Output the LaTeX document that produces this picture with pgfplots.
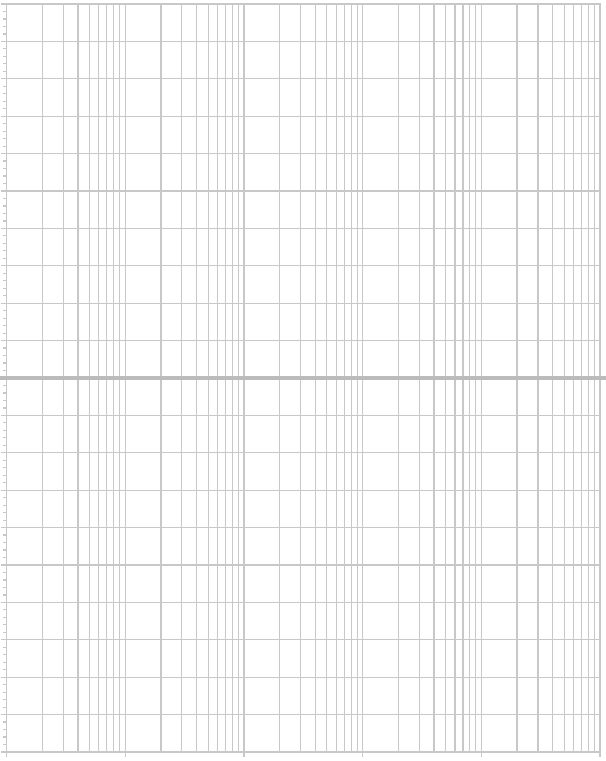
\documentclass[border=0pt]{standalone}
\usepackage{pgfplots}
\pgfplotsset{compat=1.18}
\definecolor{gridgray}{RGB}{200,200,200}
\definecolor{midgray}{RGB}{187,187,187}
\begin{document}
\begin{tikzpicture}
    % page: 606 x 761, axis box 593.5 x 748
    \useasboundingbox (-6.5bp,-9bp) rectangle (599.5bp,752bp);
    \begin{axis}[
        at={(0,0)}, anchor=south west,
        scale only axis,
        width=593.5bp,
        height=748bp,
        xmode=log,
        xmin=1, xmax=1e5,
        ymin=0, ymax=20,
        ytick distance=1,
        minor y tick num=4,
        xticklabels={}, yticklabels={},
        xmajorgrids=true, xminorgrids=true,
        ymajorgrids=true,
        tick pos=left,
        tick align=outside,
        major tick length=5.5bp,
        minor tick length=3.5bp,
        grid style={gridgray, line width=1.2bp},
        minor grid style={gridgray, line width=1.2bp},
        major grid style={gridgray, line width=1.2bp},
        tick style={gridgray, line width=1.2bp},
        minor x tick style={draw=none},
        axis line style={gridgray, line width=1.2bp},
    ]
    \end{axis}
    \draw[midgray, line width=4bp]
        ([xshift=-6.5bp]current axis.west) -- ([xshift=6.5bp]current axis.east);
\end{tikzpicture}
\end{document}
